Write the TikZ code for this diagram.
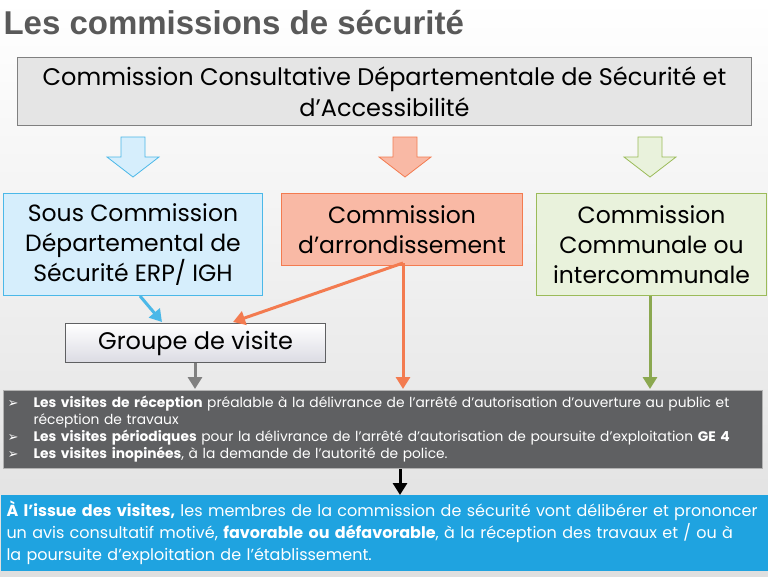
\documentclass[tikz,border=0pt]{standalone}
\usepackage{fontspec}
\setmainfont{Poppins}
\newfontfamily\titlefont{Liberation Sans}
\newfontfamily\symfont{DejaVu Sans}
\usetikzlibrary{arrows.meta}
\definecolor{bluef}{HTML}{D6EEFC}\definecolor{bluel}{HTML}{4BB8E8}
\definecolor{orf}{HTML}{F9B9A5}\definecolor{orl}{HTML}{F37B50}
\definecolor{grf}{HTML}{E9F2DC}\definecolor{grl}{HTML}{9BBB59}
\definecolor{darkbox}{HTML}{5F6062}\definecolor{bottomblue}{HTML}{1FA3E0}
\newcommand{\bul}{\makebox[26pt][l]{\symfont\fontsize{13}{14}\selectfont ➢}}
\tikzset{
 box/.style={draw, line width=1pt, align=center, inner sep=0pt, anchor=north west},
 bigarrow/.style={line width=0.8pt},
 conn/.style={line width=3pt, -{Triangle[length=12pt,width=14pt]}},
}
\begin{document}
\begin{tikzpicture}[x=1pt,y=-1pt]
\fill[top color=white, bottom color=gray!25] (0,0) rectangle (768,576);
\useasboundingbox (0,0) rectangle (768,576);
\node[anchor=west, font=\titlefont\bfseries\fontsize{33}{35}\selectfont, text=gray!70!black] (title) at (0,23) {Les commissions de sécurité};
\node[box, draw=gray, fill=gray!20, minimum width=734pt, minimum height=68pt, font=\fontsize{24}{31}\selectfont] (top) at (17,57) {Commission Consultative Départementale de Sécurité et\\d’Accessibilité};
% block arrows
\foreach \cx/\f/\l [count=\i] in {133/bluef/bluel,405/orf/orl,650/grf/grl}{
 \draw[bigarrow, draw=\l, fill=\f] (\cx-12,137) -- (\cx+12,137) -- (\cx+12,157) -- (\cx+26,157) -- (\cx,177) -- (\cx-26,157) -- (\cx-12,157) -- cycle;
}
\node[box, draw=bluel, fill=bluef, minimum width=259pt, minimum height=102pt, font=\fontsize{23.5}{30}\selectfont] (sous) at (3,193) {Sous Commission\\Départemental de\\Sécurité ERP/ IGH};
\node[box, draw=orl, fill=orf, minimum width=241pt, minimum height=72pt, font=\fontsize{23.5}{30}\selectfont] (arr) at (281,193) {Commission\\d’arrondissement};
\node[box, draw=grl, fill=grf, minimum width=230pt, minimum height=102pt, font=\fontsize{23.5}{30}\selectfont] (comm) at (536,193) {Commission\\Communale ou\\intercommunale};
\node[box, draw=darkbox, top color=white, bottom color=blue!12!gray!25, minimum width=260pt, minimum height=39pt, font=\fontsize{24}{26}\selectfont] (grp) at (65,323) {Groupe de visite};
\node[box, draw=gray!60, fill=darkbox, text=white, minimum width=759pt, minimum height=78pt, align=left, text width=751pt, inner xsep=4pt, font=\fontsize{13.8}{17}\selectfont] (visits) at (3,390) {%
\bul\textbf{Les visites de réception} préalable à la délivrance de l'arrêté d'autorisation d'ouverture au public et\\
\hspace*{26pt}réception de travaux\\
\bul\textbf{Les visites périodiques} pour la délivrance de l'arrêté d'autorisation de poursuite d'exploitation \textbf{GE 4}\\
\bul\textbf{Les visites inopinées}, à la demande de l'autorité de police.};
\node[box, draw=none, fill=bottomblue, text=white, minimum width=768pt, minimum height=76pt, align=left, text width=756pt, inner xsep=6pt, font=\fontsize{16}{22}\selectfont] (issue) at (0,494) {\textbf{À l'issue des visites,} les membres de la commission de sécurité vont délibérer et prononcer\\un avis consultatif motivé, \textbf{favorable ou défavorable}, à la réception des travaux et / ou à\\la poursuite d'exploitation de l'établissement.};
% connectors
\coordinate (o) at (403,263);
\draw[conn, draw=bluel] (140,296) -- (162,322);
\draw[conn, draw=orl] (o) -- (233,322);
\draw[conn, draw=orl] (o) -- (403,389);
\draw[conn, draw=grl!90!black] (650,296) -- (650,389);
\draw[conn, draw=gray] (195,363) -- (195,389);
\draw[conn, draw=black] (400,469) -- (400,495);
\end{tikzpicture}
\end{document}
